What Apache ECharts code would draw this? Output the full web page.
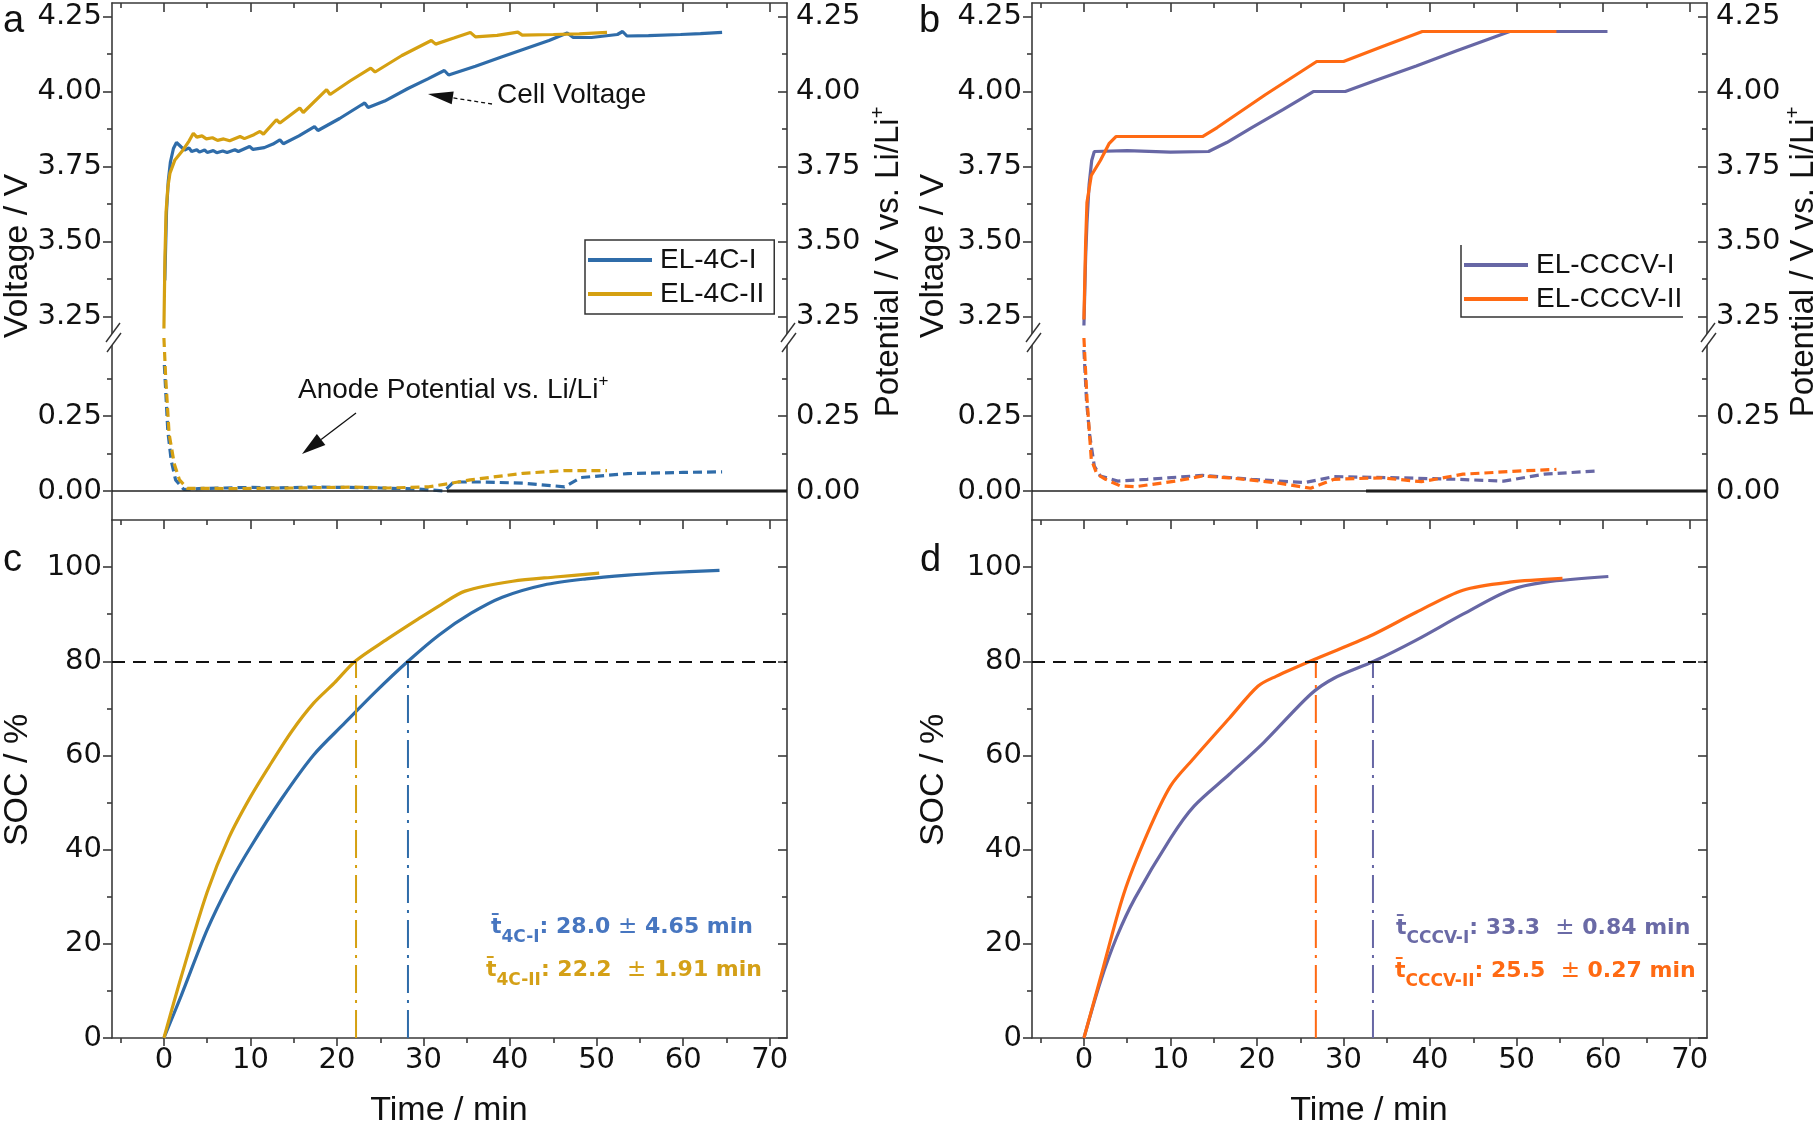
<!DOCTYPE html>
<html>
<head>
<meta charset="utf-8">
<title>Cell voltage, anode potential and SOC during fast charging</title>
<script src="https://cdn.jsdelivr.net/npm/echarts@6/dist/echarts.min.js"></script>
<style>
  html, body { margin: 0; padding: 0; background: #fff; }
  #chart { width: 1818px; height: 1125px; }
</style>
</head>
<body>
<div id="chart"></div>
<script>
// axis ranges and ticks
const timeRange = [-6, 72]
const timeMajor = [0, 10, 20, 30, 40, 50, 60, 70]
const timeMinor = [-5, 5, 15, 25, 35, 45, 55, 65]

// the voltage axis is broken: upper part for the cell, lower part for the anode
const voltTopRange = [3.1785, 4.295]
const voltTopMajor = [3.25, 3.5, 3.75, 4.0, 4.25]
const voltTopMinor = [3.375, 3.625, 3.875, 4.125]
const voltBotRange = [-0.0967, 0.51]
const voltBotMajor = [0, 0.25]
const voltBotMinor = [0.125, 0.375]

const socRange = [0, 110]
const socMajor = [0, 20, 40, 60, 80, 100]
const socMinor = [10, 30, 50, 70, 90]
const socLimit = 80

// panel a: cell voltage [min, V]
const cellVolt4C_I = [[0.1,3.37],[0.3,3.6],[0.5,3.7],[0.75,3.765],[1.1,3.81],[1.45,3.83],[1.65,3.835],[2.0,3.815],[2.4,3.805],[2.9,3.812],[3.2,3.8],[3.8,3.806],[4.1,3.798],[4.7,3.805],[5.0,3.797],[5.7,3.803],[6.1,3.796],[6.8,3.802],[7.3,3.797],[8.2,3.806],[8.6,3.8],[9.9,3.817],[10.3,3.807],[11.6,3.813],[12.6,3.825],[13.4,3.839],[13.8,3.826],[15.6,3.852],[17.4,3.883],[17.8,3.87],[20.3,3.91],[22.8,3.955],[23.2,3.962],[23.6,3.947],[25.5,3.968],[28.2,4.01],[30.5,4.042],[32.4,4.07],[32.9,4.055],[36,4.084],[39,4.115],[42,4.145],[44.5,4.17],[46.6,4.195],[47.3,4.18],[49.4,4.18],[52.4,4.19],[53.0,4.2],[53.5,4.185],[56,4.186],[59.7,4.19],[62,4.193],[64.5,4.197]]
const cellVolt4C_II = [[0.0,3.21],[0.12,3.45],[0.25,3.6],[0.45,3.68],[0.7,3.728],[1.27,3.772],[2.23,3.806],[2.9,3.835],[3.4,3.861],[3.8,3.848],[4.4,3.852],[4.9,3.842],[5.6,3.846],[6.2,3.837],[6.9,3.842],[7.6,3.836],[8.8,3.85],[9.3,3.843],[10.4,3.856],[11.1,3.867],[11.5,3.858],[13.0,3.906],[13.4,3.895],[15.7,3.945],[16.1,3.93],[18.8,4.006],[19.2,3.99],[21.5,4.035],[23.9,4.078],[24.4,4.065],[27.5,4.12],[30.9,4.17],[31.4,4.158],[33.5,4.178],[35.4,4.197],[36.0,4.182],[38.5,4.187],[40.9,4.198],[41.4,4.188],[45,4.19],[48,4.192],[51.2,4.197]]
// panel a: anode potential vs. Li/Li+ [min, V]
const anode4C_I = [[0.05,0.42],[0.45,0.2],[0.85,0.1],[1.35,0.037],[2.3,0.005],[4,0.008],[7,0.01],[10,0.012],[13,0.01],[17,0.013],[21,0.012],[25,0.01],[29,0.007],[32.4,0.0],[33.5,0.03],[37,0.03],[41.5,0.026],[46.3,0.014],[48.2,0.045],[53.6,0.058],[60,0.062],[64.5,0.064]]
const anode4C_II = [[0.0,0.51],[0.2,0.38],[0.6,0.19],[1.2,0.09],[1.8,0.037],[2.7,0.009],[8,0.008],[15,0.01],[22,0.013],[26,0.01],[30.6,0.014],[33,0.025],[35.4,0.037],[41.5,0.059],[46.3,0.068],[51.2,0.068]]

// panel b
const cellVoltCCCV_I = [[0,3.22],[0.2,3.45],[0.35,3.56],[0.6,3.69],[0.9,3.77],[1.2,3.8],[5,3.803],[10,3.798],[14.4,3.8],[16.5,3.83],[19.4,3.88],[23,3.94],[26.5,4.0],[30.2,4.0],[34,4.04],[38.4,4.085],[43,4.135],[49.2,4.2],[60.5,4.2]]
const cellVoltCCCV_II = [[0,3.24],[0.2,3.5],[0.35,3.63],[0.85,3.72],[1.9,3.77],[2.9,3.826],[3.7,3.85],[13.7,3.85],[15.4,3.88],[21,3.99],[26.9,4.1],[30,4.1],[34.5,4.15],[39.1,4.2],[54.6,4.2]]
const anodeCCCV_I = [[0,0.47],[0.3,0.3],[0.65,0.19],[1.2,0.083],[1.9,0.05],[3.9,0.033],[7.3,0.039],[13.7,0.052],[19.4,0.039],[25.5,0.028],[28.9,0.048],[36.3,0.044],[43,0.039],[48.5,0.033],[53.2,0.056],[59.3,0.067]]
const anodeCCCV_II = [[0,0.51],[0.35,0.31],[0.85,0.106],[1.5,0.056],[2.5,0.039],[4.2,0.017],[5.9,0.014],[10.6,0.033],[13.7,0.05],[16.7,0.044],[22.1,0.028],[26.2,0.009],[28.9,0.039],[34.4,0.044],[39,0.031],[43.8,0.056],[50.6,0.067],[54.6,0.072]]

// panels c and d: state of charge [min, %]
const soc4C_I = [[0,0],[2,9],[5,23],[7.5,32.5],[10,40.5],[13.6,50.8],[17.3,60.1],[20.9,66.9],[24.5,73.6],[28.2,80],[31.8,85.6],[35.5,90.2],[39.1,93.6],[43.9,96.2],[48.8,97.5],[53.6,98.3],[58,98.8],[64.2,99.3]]
const soc4C_II = [[0,0],[2,13],[5,31],[7.5,42.5],[10,51.2],[12.4,58.4],[14.8,65.2],[17.3,71.1],[19.7,75.4],[22.1,80],[25.8,84.7],[29.4,89],[32,92],[34.8,94.9],[40.3,97],[45.2,97.9],[50.3,98.7]]
const socCCCV_I = [[0,0],[1.9,11.9],[3.8,21.5],[5.9,29.7],[10,42.4],[12.7,49.2],[16.8,56],[20.8,62.8],[26.2,73],[28.9,76.4],[33.5,80],[38.4,84.5],[43.8,90],[49.2,95.1],[53.3,96.8],[60.6,98]]
const socCCCV_II = [[0,0],[1.9,12.7],[4.6,30.6],[7.3,43.3],[10,53.5],[12.7,59.4],[16.8,67.9],[20.1,74.7],[22.2,76.8],[26.9,80.6],[33,85.3],[38.4,90.4],[43.8,95.1],[49.2,96.8],[55.3,97.6]]

// time to 80 % SOC where the curves cross the limit [I, II]
const cross4C = [28.2, 22.2]
const crossCCCV = [33.4, 26.8]
// where the heavy zero line in the anode part begins [a, b]
const zeroLineFrom = [32.7, 32.6]

const blue = '#2f6ca9', gold = '#d5a011', purple = '#6767a5', orange = '#ff6a13'
const blueText = '#4776c0', goldText = '#d4a017', purpleText = '#6a6aa6', orangeText = '#ff6a13'
const AXIS = '#3a3a3a'
const FONT = '"Liberation Sans", Arial, sans-serif'
const TICK_FONT = '"DejaVu Sans", sans-serif'

const grids = [], xAxes = [], yAxes = []

function addAxis(list, o) {
    list.push({
        type: 'value', gridIndex: o.grid, position: o.pos,
        min: o.range[0], max: o.range[1],
        show: o.show !== false,
        axisLine: {show: !!o.line, onZero: false, lineStyle: {color: AXIS, width: 1.6}},
        axisTick: {show: true, inside: !!o.inside, length: o.len, customValues: o.ticks,
                   lineStyle: {color: AXIS, width: 1.6}},
        axisLabel: o.fmt ? {show: true, customValues: o.ticks, formatter: o.fmt, margin: o.margin,
                            fontSize: 29, fontFamily: TICK_FONT, color: '#111'} : {show: false},
        splitLine: {show: false}
    })
    return list.length - 1
}

const fmtVolt = v => v.toFixed(2)
const fmtInt = v => String(v)

// one column = broken voltage panel on top, SOC panel below
function buildColumn(c, left) {
    const g = c * 3
    grids.push(
        {left: left, top: 3, width: 675, height: 335},
        {left: left, top: 338, width: 675, height: 182},
        {left: left, top: 520, width: 675, height: 518}
    )
    const ax = {}
    // x axes
    ax.xTop = addAxis(xAxes, {grid: g, pos: 'top', range: timeRange, line: true, inside: true, len: 9, ticks: timeMajor})
    addAxis(xAxes, {grid: g, pos: 'top', range: timeRange, inside: true, len: 5, ticks: timeMinor})
    ax.xBot = addAxis(xAxes, {grid: g + 1, pos: 'bottom', range: timeRange, show: false, ticks: []})
    addAxis(xAxes, {grid: g + 2, pos: 'top', range: timeRange, line: true, inside: true, len: 9, ticks: timeMajor})
    addAxis(xAxes, {grid: g + 2, pos: 'top', range: timeRange, inside: true, len: 5, ticks: timeMinor})
    ax.xSoc = addAxis(xAxes, {grid: g + 2, pos: 'bottom', range: timeRange, line: true, len: 8, ticks: timeMajor, fmt: fmtInt, margin: 8})
    addAxis(xAxes, {grid: g + 2, pos: 'bottom', range: timeRange, len: 5, ticks: timeMinor})

    // y axes, upper voltage part
    ax.yTop = addAxis(yAxes, {grid: g, pos: 'left', range: voltTopRange, line: true, len: 9, ticks: voltTopMajor, fmt: fmtVolt, margin: 10})
    addAxis(yAxes, {grid: g, pos: 'left', range: voltTopRange, len: 5, ticks: voltTopMinor})
    addAxis(yAxes, {grid: g, pos: 'right', range: voltTopRange, line: true, inside: true, len: 9, ticks: voltTopMajor, fmt: fmtVolt, margin: 9})
    addAxis(yAxes, {grid: g, pos: 'right', range: voltTopRange, inside: true, len: 5, ticks: voltTopMinor})
    // lower (anode) part
    ax.yBot = addAxis(yAxes, {grid: g + 1, pos: 'left', range: voltBotRange, line: true, len: 9, ticks: voltBotMajor, fmt: fmtVolt, margin: 10})
    addAxis(yAxes, {grid: g + 1, pos: 'left', range: voltBotRange, len: 5, ticks: voltBotMinor})
    addAxis(yAxes, {grid: g + 1, pos: 'right', range: voltBotRange, line: true, inside: true, len: 9, ticks: voltBotMajor, fmt: fmtVolt, margin: 9})
    addAxis(yAxes, {grid: g + 1, pos: 'right', range: voltBotRange, inside: true, len: 5, ticks: voltBotMinor})
    // SOC
    ax.ySoc = addAxis(yAxes, {grid: g + 2, pos: 'left', range: socRange, line: true, len: 9, ticks: socMajor, fmt: fmtInt, margin: 10})
    addAxis(yAxes, {grid: g + 2, pos: 'left', range: socRange, len: 5, ticks: socMinor})
    addAxis(yAxes, {grid: g + 2, pos: 'right', range: socRange, line: true, inside: true, len: 9, ticks: socMajor})
    addAxis(yAxes, {grid: g + 2, pos: 'right', range: socRange, inside: true, len: 5, ticks: socMinor})
    return ax
}

const colA = buildColumn(0, 112)
const colB = buildColumn(1, 1032)

function line(name, data, xi, yi, color, width, dash, smooth) {
    return {
        name: name, type: 'line', data: data, xAxisIndex: xi, yAxisIndex: yi,
        symbol: 'none', smooth: smooth || false, animation: false,
        itemStyle: {color: color},
        lineStyle: {color: color, width: width, type: dash || 'solid'}
    }
}

const zeroMark = {
    silent: true, symbol: 'none', label: {show: false},
    lineStyle: {color: '#222', width: 1.5, type: 'solid'},
    data: [{yAxis: 0}]
}
const limitMark = {
    silent: true, symbol: 'none', label: {show: false},
    lineStyle: {color: '#111', width: 2.2, type: [13, 8]},
    data: [{yAxis: socLimit}]
}
const dashDot = [28, 7, 3, 7]
const dashed = [9, 5]

const series = [
    // a
    line('EL-4C-I', cellVolt4C_I, colA.xTop, colA.yTop, blue, 3.2),
    line('EL-4C-II', cellVolt4C_II, colA.xTop, colA.yTop, gold, 3.2),
    Object.assign(line('anode 4C-I', anode4C_I, colA.xBot, colA.yBot, blue, 3.2, dashed), {markLine: zeroMark}),
    line('anode 4C-II', anode4C_II, colA.xBot, colA.yBot, gold, 3.2, dashed),
    line('zero a', [[zeroLineFrom[0], 0], [timeRange[1], 0]], colA.xBot, colA.yBot, '#111', 2.8),
    // b
    line('EL-CCCV-I', cellVoltCCCV_I, colB.xTop, colB.yTop, purple, 3.2),
    line('EL-CCCV-II', cellVoltCCCV_II, colB.xTop, colB.yTop, orange, 3.2),
    Object.assign(line('anode CCCV-I', anodeCCCV_I, colB.xBot, colB.yBot, purple, 3.2, dashed), {markLine: zeroMark}),
    line('anode CCCV-II', anodeCCCV_II, colB.xBot, colB.yBot, orange, 3.2, dashed),
    line('zero b', [[zeroLineFrom[1], 0], [timeRange[1], 0]], colB.xBot, colB.yBot, '#111', 2.8),
    // c
    Object.assign(line('SOC 4C-I', soc4C_I, colA.xSoc, colA.ySoc, blue, 3.2, null, 0.3), {markLine: limitMark}),
    line('SOC 4C-II', soc4C_II, colA.xSoc, colA.ySoc, gold, 3.2, null, 0.3),
    line('t80 4C-I', [[cross4C[0], 0], [cross4C[0], socLimit]], colA.xSoc, colA.ySoc, blue, 2, dashDot),
    line('t80 4C-II', [[cross4C[1], 0], [cross4C[1], socLimit]], colA.xSoc, colA.ySoc, gold, 2, dashDot),
    // d
    Object.assign(line('SOC CCCV-I', socCCCV_I, colB.xSoc, colB.ySoc, purple, 3.2, null, 0.3), {markLine: limitMark}),
    line('SOC CCCV-II', socCCCV_II, colB.xSoc, colB.ySoc, orange, 3.2, null, 0.3),
    line('t80 CCCV-I', [[crossCCCV[0], 0], [crossCCCV[0], socLimit]], colB.xSoc, colB.ySoc, purple, 2, dashDot),
    line('t80 CCCV-II', [[crossCCCV[1], 0], [crossCCCV[1], socLimit]], colB.xSoc, colB.ySoc, orange, 2, dashDot)
]

function legend(names, left, top, border) {
    return {
        data: names, left: left, top: top, orient: 'vertical', selectedMode: false,
        icon: 'rect', itemWidth: 64, itemHeight: 4, itemGap: 6,
        padding: [6, 10, 6, 3],
        borderColor: '#333', borderWidth: border ? 1.5 : 0,
        textStyle: {fontSize: 28, fontFamily: FONT, color: '#111', lineHeight: 28, padding: [0, 0, 0, 3]}
    }
}

// --- annotations (drawn in pixels) ---
const gfx = []
function txt(x, y, text, size, extra) {
    const el = {type: 'text', x: x, y: y, z: 50, silent: true,
        style: Object.assign({text: text, fontSize: size, fontFamily: FONT, fill: '#111',
                              align: 'left', verticalAlign: 'middle'}, extra && extra.style)}
    if (extra && extra.rotation) el.rotation = extra.rotation
    gfx.push(el)
}
function vtitle(x, y, text, size) {
    txt(x, y, text, size, {rotation: Math.PI / 2, style: {align: 'center', lineHeight: size + 8,
        rich: {sup: {fontSize: Math.round(size * 0.6), fontFamily: FONT, fill: '#111', verticalAlign: 'top', lineHeight: 18}}}})
}
function arrow(x1, y1, x2, y2, dash, width, headLen, headW) {
    const dx = x2 - x1, dy = y2 - y1, L = Math.sqrt(dx * dx + dy * dy)
    const ux = dx / L, uy = dy / L
    const bx = x2 - ux * headLen, by = y2 - uy * headLen
    gfx.push({type: 'line', z: 50, silent: true, shape: {x1: x1, y1: y1, x2: bx, y2: by},
              style: {stroke: '#111', lineWidth: width, lineDash: dash}})
    gfx.push({type: 'polygon', z: 50, silent: true,
              shape: {points: [[x2, y2], [bx - uy * headW, by + ux * headW], [bx + uy * headW, by - ux * headW]]},
              style: {fill: '#111'}})
}
function breakMark(x0, y0) {
    gfx.push({type: 'polygon', z: 60, silent: true,
              shape: {points: [[x0 - 6, y0 + 4], [x0 + 8, y0 - 15], [x0 + 9, y0 - 5], [x0 - 5, y0 + 14]]},
              style: {fill: '#fff'}})
    gfx.push({type: 'line', z: 61, silent: true, shape: {x1: x0 - 6, y1: y0 + 4, x2: x0 + 8, y2: y0 - 15},
              style: {stroke: '#333', lineWidth: 1.4}})
    gfx.push({type: 'line', z: 61, silent: true, shape: {x1: x0 - 5, y1: y0 + 14, x2: x0 + 9, y2: y0 - 5},
              style: {stroke: '#333', lineWidth: 1.4}})
}
function tmark(x, y, sub, rest, color) {
    gfx.push({type: 'text', x: x, y: y, z: 50, silent: true, style: {
        text: '{m|t\u0304}{s|' + sub + '}{m|: ' + rest[0] + '}{p|±}{m|' + rest[1] + '}',
        verticalAlign: 'middle', align: 'left',
        rich: {
            m: {fontSize: 22, fontWeight: 'bold', fontFamily: '"DejaVu Sans"', fill: color, lineHeight: 38},
            p: {fontSize: 23, fontWeight: 'normal', fontFamily: '"DejaVu Sans"', fill: color, lineHeight: 38},
            s: {fontSize: 17, fontWeight: 'bold', fontFamily: '"DejaVu Sans"', fill: color, lineHeight: 17, verticalAlign: 'bottom'}
        }
    }})
}

// panel letters
txt(3, 22, 'a', 38)
txt(919, 22, 'b', 38)
txt(3, 561, 'c', 38)
txt(920, 561, 'd', 38)
// axis titles
vtitle(18, 256, 'Voltage / V', 34)
vtitle(934, 256, 'Voltage / V', 34)
vtitle(889, 262, 'Potential / V vs. Li/Li{sup|+}', 33)
vtitle(1804, 262, 'Potential / V vs. Li/Li{sup|+}', 33)
vtitle(18, 780, 'SOC / %', 34)
vtitle(934, 780, 'SOC / %', 34)
txt(449, 1111, 'Time / min', 34, {style: {align: 'center'}})
txt(1369, 1111, 'Time / min', 34, {style: {align: 'center'}})
// panel a call-outs
txt(497, 95, 'Cell Voltage', 28)
arrow(492, 104, 428, 94, [4, 3], 1.3, 25, 6.5)
txt(298, 390, 'Anode Potential vs. Li/Li{sup|+}', 28, {style: {lineHeight: 34,
    rich: {sup: {fontSize: 17, fontFamily: FONT, fill: '#111', verticalAlign: 'top', lineHeight: 17}}}})
arrow(356, 413, 302, 454, null, 1.3, 24, 7)
// axis breaks
breakMark(112, 338); breakMark(787, 338); breakMark(1032, 338); breakMark(1707, 338)
// legend b has only a left and bottom frame
gfx.push({type: 'polyline', z: 50, silent: true, shape: {points: [[1461, 245], [1461, 317], [1683, 317]]},
          style: {stroke: '#333', lineWidth: 1.5, fill: null}})
// time-to-80% labels
tmark(491, 927, '4C-I', ['28.0 ', ' 4.65 min'], blueText)
tmark(486, 970, '4C-II', ['22.2  ', ' 1.91 min'], goldText)
tmark(1396, 928, 'CCCV-I', ['33.3  ', ' 0.84 min'], purpleText)
tmark(1395, 971, 'CCCV-II', ['25.5  ', ' 0.27 min'], orangeText)

var chart = echarts.init(document.getElementById('chart'), null, {renderer: 'canvas'})
var option = {
    animation: false,
    backgroundColor: '#fff',
    textStyle: {fontFamily: FONT},
    grid: grids.map(g => Object.assign({containLabel: false, outerBoundsMode: 'none'}, g)),
    xAxis: xAxes,
    yAxis: yAxes,
    legend: [
        legend(['EL-4C-I', 'EL-4C-II'], 585, 240, true),
        legend(['EL-CCCV-I', 'EL-CCCV-II'], 1461, 245, false)
    ],
    series: series,
    graphic: {elements: gfx}
}
chart.setOption(option)
</script>
</body>
</html>
